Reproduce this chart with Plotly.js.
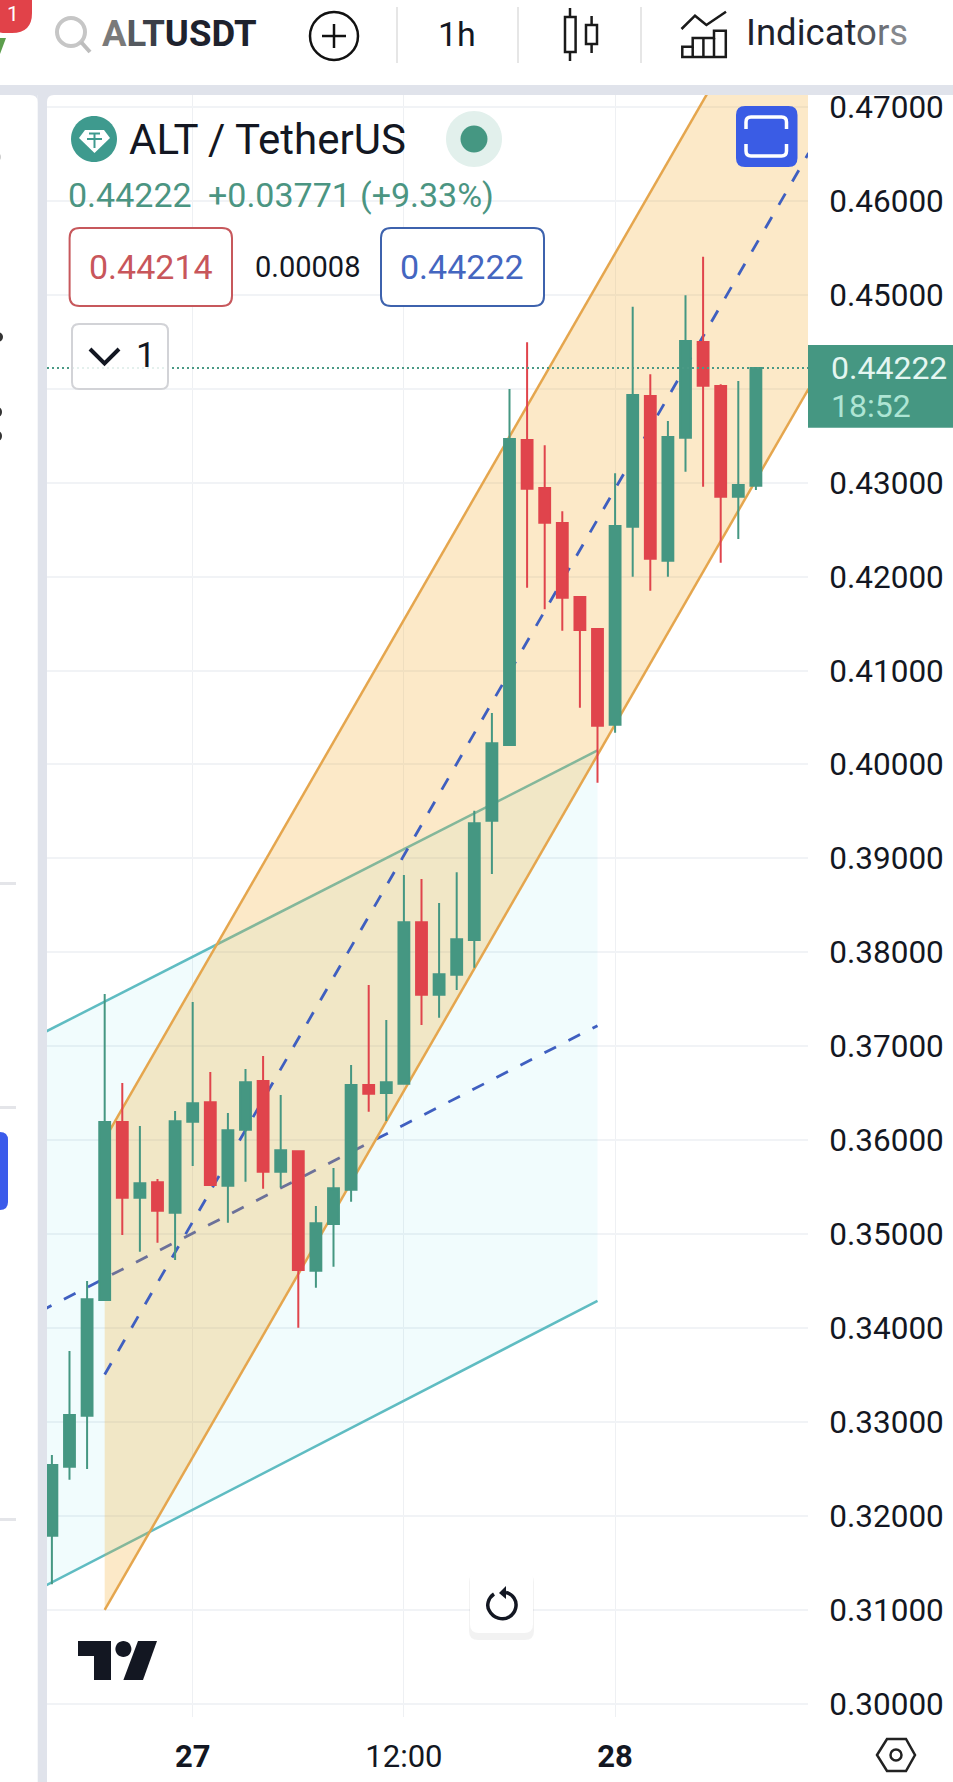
<!DOCTYPE html>
<html>
<head>
<meta charset="utf-8">
<script src="https://cdn.plot.ly/plotly-3.0.1.min.js"></script>
<style>html,body{margin:0;padding:0;background:#fff;overflow:hidden}#chart{width:953px;height:1782px}</style>
</head>
<body>
<div id="chart"></div>
<script>
// Hours relative to 00:00 on the 27th
const hours = [-8,-7,-6,-5,-4,-3,-2,-1,0,1,2,3,4,5,6,7,8,9,10,11,12,13,14,15,16,17,18,19,20,21,22,23,24,25,26,27,28,29,30,31,32];
const opens = [.31789,.32523,.33066,.34298,.36193,.35387,.35551,.35228,.36197,.36403,.35515,.36111,.36630,.35664,.35881,.34610,.35107,.35473,.36587,.36502,.36601,.38320,.37549,.37762,.38131,.39401,.40207,.43455,.42943,.42571,.41783,.41442,.40423,.42531,.43923,.42169,.43479,.44498,.44029,.42851,.42968];
const highs = [.32648,.33755,.34500,.37556,.36609,.36151,.35587,.36310,.37471,.36726,.36289,.36758,.36896,.36481,.35881,.35299,.35704,.36800,.37652,.37279,.38823,.38781,.38525,.38852,.39508,.40548,.43998,.44495,.43398,.42695,.41790,.41450,.43100,.44874,.44154,.43657,.44995,.45406,.44048,.44083,.44222];
const lows = [.31271,.32385,.32499,.34288,.34990,.34812,.34908,.34724,.35725,.35523,.35121,.35558,.35483,.35501,.34003,.34429,.34653,.35345,.36303,.36204,.36601,.37226,.37304,.37599,.37836,.38834,.40207,.41882,.41652,.41424,.40604,.39806,.40338,.41999,.41850,.41999,.43117,.42957,.42148,.42401,.42922];
const closes = [.32541,.33074,.34306,.36193,.35387,.35541,.35249,.36201,.36392,.35523,.36105,.36616,.35664,.35892,.34618,.35115,.35487,.36587,.36495,.36616,.38320,.37549,.37766,.38139,.39374,.40225,.43465,.42936,.42574,.41775,.41432,.40413,.42539,.43934,.42191,.43486,.44509,.44032,.42851,.42975,.44222];

const yTickVals = [.30,.31,.32,.33,.34,.35,.36,.37,.38,.39,.40,.41,.42,.43,.44,.45,.46,.47];
const yTickText = ['0.30000','0.31000','0.32000','0.33000','0.34000','0.35000','0.36000','0.37000','0.38000','0.39000','0.40000','0.41000','0.42000','0.43000','','0.45000','0.46000','0.47000'];
const xTickVals = [0,12,24];
const xTickText = ['<b>27</b>','12:00','<b>28</b>'];

// Parallel channels (hours, price)
const tealX = [-9,23];
const tealUpper = [.37093,.40149];
const tealLower = [.31195,.34289];
const tealMiddleX = [-8.68,23];
const tealMiddle = [.34175,.37219];
const orangeX = [-5,35];
const orangeUpper = [.36012,.49017];
const orangeMiddle = [.33505,.46510];
const orangeLower = [.30998,.44002];

const lastPrice = .44222;
const GREEN='#459782', RED='#E0444C', BLUE='#3F5FC0', TEAL='#5FBCC2', ORANGE='#E5A64E';
const FONT='Roboto, sans-serif', INK='#131722';

const L=47,R=808,T=95,B=1717;
const X=x=>(x-L)/(R-L), Y=y=>(B-y)/(B-T);
function P(str){ // pixel path -> paper path
  let isX=true;
  return str.trim().split(/\s+/).map(t=>{
    if(/^[A-Z]$/.test(t)){isX=true;return t;}
    const v=parseFloat(t); const o=(isX?X(v):Y(v)).toFixed(5); isX=!isX; return o;
  }).join(' ');
}
const rr=(a,b,c,d,r)=>`M ${a+r} ${b} L ${c-r} ${b} Q ${c} ${b} ${c} ${b+r} L ${c} ${d-r} Q ${c} ${d} ${c-r} ${d} L ${a+r} ${d} Q ${a} ${d} ${a} ${d-r} L ${a} ${b+r} Q ${a} ${b} ${a+r} ${b} Z`;
const ell=(cx,cy,rx,ry)=>{const k=.5523;return `M ${cx-rx} ${cy} C ${cx-rx} ${cy-k*ry} ${cx-k*rx} ${cy-ry} ${cx} ${cy-ry} C ${cx+k*rx} ${cy-ry} ${cx+rx} ${cy-k*ry} ${cx+rx} ${cy} C ${cx+rx} ${cy+k*ry} ${cx+k*rx} ${cy+ry} ${cx} ${cy+ry} C ${cx-k*rx} ${cy+ry} ${cx-rx} ${cy+k*ry} ${cx-rx} ${cy} Z`;};
const sh=(path,fill,stroke,w)=>({type:'path',xref:'paper',yref:'paper',layer:'above',path:P(path),fillcolor:fill||'rgba(0,0,0,0)',line:{color:stroke||'rgba(0,0,0,0)',width:stroke?(w||2):0}});
const box=(a,b,c,d,fill)=>sh(`M ${a} ${b} L ${c} ${b} L ${c} ${d} L ${a} ${d} Z`,fill);

const lineTrace=(x,y,color,width,dash)=>({type:'scatter',mode:'lines',x,y,xaxis:'x',yaxis:'y',line:{color,width,dash:dash||'solid'},hoverinfo:'skip',showlegend:false});
const band=(x,up,lo,color)=>({type:'scatter',mode:'lines',x:[x[0],x[1],x[1],x[0],x[0]],y:[up[0],up[1],lo[1],lo[0],up[0]],xaxis:'x',yaxis:'y',fill:'toself',fillcolor:color,line:{width:0},hoverinfo:'skip',showlegend:false});

const traces=[
  band(tealX,tealUpper,tealLower,'rgba(0,200,210,0.055)'),
  lineTrace(tealX,tealUpper,TEAL,2.5),
  lineTrace(tealX,tealLower,TEAL,2.5),
  lineTrace(tealMiddleX,tealMiddle,BLUE,2.8,'13px,14px'),
  band(orangeX,orangeUpper,orangeLower,'rgba(245,166,35,0.25)'),
  lineTrace(orangeX,orangeUpper,ORANGE,2.5),
  lineTrace(orangeX,orangeLower,ORANGE,2.5),
  lineTrace(orangeX,orangeMiddle,BLUE,2.8,'13px,14px'),
  {type:'candlestick',x:hours,open:opens,high:highs,low:lows,close:closes,xaxis:'x2',yaxis:'y2',
   whiskerwidth:0,showlegend:false,hoverinfo:'skip',
   increasing:{line:{color:GREEN,width:2},fillcolor:GREEN},
   decreasing:{line:{color:RED,width:2},fillcolor:RED}}
];

const xRange=[-8.278,34.96], yRange=[.29858,.47128];
const shapes=[
  // price line
  {type:'line',xref:'paper',yref:'y',x0:0,x1:1,y0:lastPrice,y1:lastPrice,layer:'above',line:{color:'#4A9A85',width:2,dash:'2px,3px'}},
  // chrome bands
  box(0,85,953,95,'#E0E3EB'),
  box(37.7,85,47,1782,'#E0E3EB'),
  sh('M 47 95 L 54 95 Q 47 95 47 102 Z','#E0E3EB'),
  sh('M 37.7 95 L 30 95 Q 37.7 95 37.7 102 Z','#E0E3EB'),
  // left panel remnants
  box(0,882,16,885,'#E4E5E9'),box(0,1106,16,1109,'#E4E5E9'),box(0,1518,16,1521,'#E4E5E9'),
  sh(rr(-12,1132,8,1210,8),'#3B5BEB'),
  sh(ell(-2,337,5,5),'#333333'),sh(ell(-2,412,4,5),'#333333'),sh(ell(-2,436,4,5),'#333333'),sh(ell(-2,157,3,4),'#cccccc'),
  // badge
  sh('M 0 38 L 6 38 L 0 54 Z','#5C9E4C'),
  sh(rr(-14,-20,32,33,20),'#E14249'),
  // magnifier
  sh(ell(71,32,14,14),null,'#C6C6C6',4),sh('M 81 42 L 90 52',null,'#BDBDBD',4),
  // plus
  sh(ell(334,36,24,24),null,'#111111',2.5),sh('M 322 36 L 346 36',null,'#111111',2.5),sh('M 334 24 L 334 48',null,'#111111',2.5),
  // separators
  box(396,7,398,63,'#E6E6E6'),box(517,7,519,63,'#E6E6E6'),box(640,7,642,63,'#E6E6E6'),
  // candle icon
  sh('M 570 8 L 570 17',null,'#1A1A1A',2.5),sh('M 570 52 L 570 61',null,'#1A1A1A',2.5),sh('M 565 17 L 575.6 17 L 575.6 52 L 565 52 Z',null,'#1A1A1A',2.5),
  sh('M 591.6 16 L 591.6 25',null,'#1A1A1A',2.5),sh('M 591.6 44 L 591.6 53',null,'#1A1A1A',2.5),sh('M 586 25 L 597 25 L 597 44 L 586 44 Z',null,'#1A1A1A',2.5),
  // indicators icon
  sh('M 681.5 29 L 695 15.7 L 706.4 25 L 726 11.7',null,'#1A1A1A',2.5),
  sh('M 682.3 57 L 682.3 46.7 L 692.7 46.7 L 692.7 38 L 714 38 L 714 30.7 L 725.8 30.7 L 725.8 57 Z',null,'#1A1A1A',2.5),
  sh('M 692.7 46.7 L 692.7 57',null,'#1A1A1A',2.5),sh('M 714 38 L 714 57',null,'#1A1A1A',2.5),sh('M 703.4 38 L 703.4 57',null,'#1A1A1A',2.5),
  // tether logo
  sh(ell(94,139,23,23),'#3E9A8E'),
  sh('M 85 130 L 104 130 L 110 138 L 94.5 153 L 79 138 Z','#FFFFFF'),
  sh('M 89 133.5 L 100 133.5',null,'#3E9A8E',2),sh('M 87 139 L 102 139',null,'#3E9A8E',2),sh('M 94.5 133.5 L 94.5 148',null,'#3E9A8E',2),
  // status dot
  sh(ell(474,139,28,28),'#E2F0EC'),sh(ell(474,139,13.5,13.5),'#459782'),
  // bid/ask boxes
  sh(rr(69.6,228,232,306,10),'#FFFFFF','#C7585C',2),
  sh(rr(381,228,544,306,10),'#FFFFFF','#3D62AD',2),
  // interval box
  sh(rr(72,324,168,389,7),'rgba(255,255,255,0.85)','#D2D3D7',2),
  sh('M 90 349 L 104.5 363.5 L 119 349',null,'#131722',4),
  // fullscreen button
  sh(rr(736,106,797.5,167,9),'#3A5CE5'),
  sh('M 746 129 L 746 122 Q 746 117 751 117 L 781.5 117 Q 786.5 117 786.5 122 L 786.5 129',null,'#FFFFFF',3.5),
  sh('M 746 144 L 746 151 Q 746 156 751 156 L 781.5 156 Q 786.5 156 786.5 151 L 786.5 144',null,'#FFFFFF',3.5),
  // price tag
  box(808,345,953,427.7,GREEN),
  // replay button
  sh(rr(469,1573,534,1640,9),'rgba(0,0,0,0.05)'),
  sh(rr(470,1569,533,1633,9),'#FFFFFF'),
  sh('M 494 1594 C 488 1598 486 1606 489.5 1611 C 493 1618 503 1621 509 1617 C 516 1613 518 1604 514 1598 C 512 1595 509 1593 506 1592.5',null,'#131722',3.5),
  sh('M 506 1586 L 499 1593 L 506 1599 Z','#131722'),
  // tradingview logo
  sh('M 78 1641 L 111 1641 L 111 1680 L 94 1680 L 94 1656 L 78 1656 Z','#131722'),
  sh(ell(123.4,1649,8,8),'#131722'),
  sh('M 138 1641 L 157 1641 L 143 1680 L 123.4 1680 Z','#131722'),
  // settings hexagon
  sh('M 877 1755 L 887 1739 L 906 1739 L 915 1755 L 906 1771 L 887 1771 Z',null,'#222222',2.5),
  sh(ell(896,1755,5.5,5.5),null,'#222222',2.5)
];

const txt=(text,x,y,size,color,anchor)=>({text,x:X(x),y:Y(y),xref:'paper',yref:'paper',xanchor:anchor||'left',yanchor:'middle',showarrow:false,borderpad:0,font:{family:FONT,size,color}});
const annotations=[
  txt('1',13,14,21,'#FFFFFF','center'),
  txt('<b><span style="color:#7A7A7A">A</span><span style="color:#555a60">L</span><span style="color:#3a3e46">T</span>USDT</b>',101,34,36.5,'#1E222D'),
  txt('1h',457,34,34,'#131722','center'),
  txt('Indicat<span style="color:#50555c">o</span><span style="color:#6e7278">r</span><span style="color:#85888d">s</span>',745,33,36.5,'#1E222D'),
  txt('ALT / TetherUS',128,139,42,'#131722'),
  txt('0.44222',67,195,34,'#4B9582'),
  txt('+0.03771',207,195,34,'#4B9582'),
  txt('(+9.33%)',359,195,34,'#4B9582'),
  txt('0.44214',151,267,34,'#C8565B','center'),
  txt('0.00008',307,267,29,'#131722','center'),
  txt('0.44222',462,267,34,'#4466C0','center'),
  txt('1',146,355,35,'#131722','center'),
  txt('0.44222',829.5,368,32,'#E4F6F1'),
  txt('18:52',829.5,406,32,'#AEE5D4')
];

const layout={
  width:953,height:1782,autosize:false,
  margin:{l:L,r:953-R,t:T,b:1782-B,pad:0},
  paper_bgcolor:'#FFFFFF',plot_bgcolor:'#FFFFFF',
  font:{family:FONT,color:INK},
  showlegend:false,hovermode:false,dragmode:false,boxmode:'overlay',boxgap:0.12,
  xaxis:{type:'linear',range:xRange,fixedrange:true,tickmode:'array',tickvals:xTickVals,ticktext:xTickText,
    showgrid:true,gridcolor:'#EEF0F3',gridwidth:1,zeroline:false,showline:false,
    ticks:'outside',ticklen:12,tickcolor:'rgba(0,0,0,0)',tickfont:{family:FONT,size:31,color:INK},rangeslider:{visible:false}},
  yaxis:{type:'linear',side:'right',range:yRange,fixedrange:true,tickmode:'array',tickvals:yTickVals,ticktext:yTickText,
    showgrid:true,gridcolor:'#F1F3F6',gridwidth:2,zeroline:false,showline:false,
    ticks:'outside',ticklen:14,tickcolor:'rgba(0,0,0,0)',tickfont:{family:FONT,size:31.5,color:INK}},
  xaxis2:{type:'linear',overlaying:'x',range:xRange,fixedrange:true,visible:false,rangeslider:{visible:false}},
  yaxis2:{type:'linear',overlaying:'y',side:'right',range:yRange,fixedrange:true,visible:false},
  shapes,annotations
};
Plotly.newPlot('chart',traces,layout,{displayModeBar:false,staticPlot:true,responsive:false});
</script>
</body>
</html>
